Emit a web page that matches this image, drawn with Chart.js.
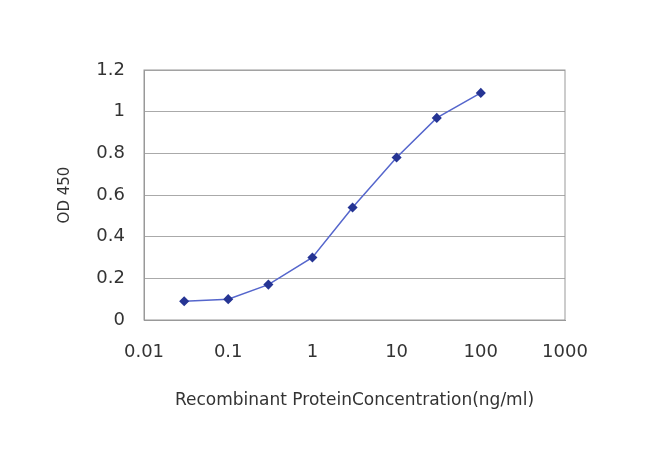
<!DOCTYPE html>
<html>
<head>
<script src="https://cdn.jsdelivr.net/npm/chart.js@4"></script>
<style>
  body { margin: 0; background: #fff; }
  #wrap { width: 650px; height: 466px; }
</style>
</head>
<body>
<div id="wrap"><canvas id="c"></canvas></div>
<script>
// concentration (ng/ml) aur OD values
const concentrations = [0.03, 0.1, 0.3, 1, 3, 10, 30, 100];
const odValues = [0.09, 0.10, 0.17, 0.30, 0.54, 0.78, 0.97, 1.09];
const xTicks = [0.01, 0.1, 1, 10, 100, 1000];
const yTicks = [0, 0.2, 0.4, 0.6, 0.8, 1, 1.2];

const font = { family: 'DejaVu Sans, Liberation Sans, sans-serif', size: 18 };

new Chart(document.getElementById('c'), {
    type: 'line',
    data: {
        datasets: [{
            data: concentrations.map((x, i) => ({ x: x, y: odValues[i] })),
            borderColor: '#5566cc',
            borderWidth: 1.5,
            pointStyle: 'rectRot',
            pointRadius: 4,
            pointBackgroundColor: '#263594',
            pointBorderColor: '#263594',
            tension: 0
        }]
    },
    options: {
        responsive: true,
        maintainAspectRatio: false,
        animation: false,
        layout: { padding: { left: 52, right: 85, top: 70, bottom: 51 } },
        plugins: { legend: { display: false }, tooltip: { enabled: false } },
        scales: {
            x: {
                type: 'logarithmic',
                min: 0.01,
                max: 1000,
                afterBuildTicks: axis => { axis.ticks = xTicks.map(v => ({ value: v })); },
                afterFit: axis => { axis.height = 95; },
                grid: { display: false, drawTicks: false },
                border: { color: '#999' },
                ticks: { color: '#333', font: font, padding: 22, callback: v => String(v), maxRotation: 0 },
                title: { display: true, text: 'Recombinant ProteinConcentration(ng/ml)', color: '#333', font: { family: font.family, size: 17 }, padding: { top: 20 } }
            },
            y: {
                min: 0,
                max: 1.2,
                afterBuildTicks: axis => { axis.ticks = yTicks.map(v => ({ value: v })); },
                afterFit: axis => { axis.width = 92; },
                grid: { color: '#aaa', drawTicks: false },
                border: { color: '#999' },
                ticks: { color: '#333', font: font, padding: 19, callback: v => String(v) },
                title: { display: true, text: 'OD 450', color: '#333', font: { family: font.family, size: 15 } }
            }
        }
    },
    plugins: [{
        // right aur top border
        id: 'frame',
        afterDraw(chart) {
            const { ctx, chartArea: a } = chart;
            ctx.save();
            ctx.strokeStyle = '#999';
            ctx.lineWidth = 1;
            ctx.strokeRect(a.left, a.top, a.right - a.left, a.bottom - a.top);
            ctx.restore();
        }
    }]
});
</script>
</body>
</html>
